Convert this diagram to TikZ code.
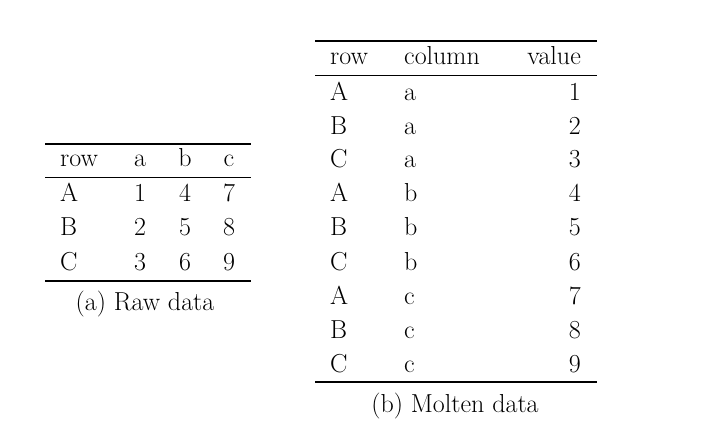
\documentclass[tikz,border=0pt]{standalone}
\usepackage{fontspec}
\setmainfont{Latin Modern Roman}
\begin{document}
\begin{tikzpicture}[x=1pt,y=-1pt,
  t/.style={font=\fontsize{26}{30}\selectfont, inner sep=0pt, anchor=base},
  tl/.style={t, anchor=base west},
  tr/.style={t, anchor=base east},
  heavy/.style={line width=1.2pt},
  light/.style={line width=0.7pt}]
\useasboundingbox (0,0) rectangle (721,433);
% Table (a)
\draw[heavy] (45,144) -- (251,144);
\draw[light] (45,177) -- (251,177);
\draw[heavy] (45,281) -- (251,281);
\node[tl] (h1) at (60,167) {row};
\node[t] (h2) at (140,167) {a};
\node[t] (h3) at (185,167) {b};
\node[t] (h4) at (229,167) {c};
\foreach \r/\a/\b/\c/\y in {A/1/4/7/202,B/2/5/8/236,C/3/6/9/270}{
  \node[tl] at (60,\y) {\r};
  \node[t] at (140,\y) {\a};
  \node[t] at (185,\y) {\b};
  \node[t] at (229,\y) {\c};
}
\node[t] (capa) at (145,310) {(a) Raw data};
% Table (b)
\draw[heavy] (315,41) -- (597,41);
\draw[light] (315,75) -- (597,75);
\draw[heavy] (315,382) -- (597,382);
\node[tl] (g1) at (330,65) {row};
\node[tl] (g2) at (404,65) {column};
\node[tr] (g3) at (581,65) {value};
\foreach \r/\c/\v/\y in {A/a/1/101,B/a/2/135,C/a/3/168,A/b/4/202,B/b/5/236,C/b/6/270,A/c/7/304,B/c/8/338,C/c/9/372}{
  \node[tl] at (330,\y) {\r};
  \node[tl] at (404,\y) {\c};
  \node[tr] at (581,\y) {\v};
}
\node[t] (capb) at (455,412) {(b) Molten data};
\end{tikzpicture}
\end{document}
